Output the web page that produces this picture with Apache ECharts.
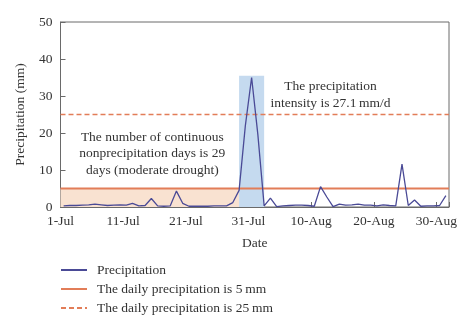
<!DOCTYPE html>
<html>
<head>
<meta charset="utf-8">
<script src="https://cdn.jsdelivr.net/npm/echarts@6/dist/echarts.min.js"></script>
<style>
  html, body { margin: 0; padding: 0; background: #fff; }
  #chart { width: 474px; height: 331px; }
</style>
</head>
<body>
<div id="chart"></div>
<script>
// Daily precipitation (mm), 1 July .. 31 August; each value is plotted at midday of its date
const precipitation = [
  0.3, 0.4, 0.4, 0.5, 0.6, 0.8, 0.6, 0.4, 0.5, 0.6,
  0.5, 1.0, 0.3, 0.4, 2.3, 0.3, 0.2, 0.3, 4.3, 1.0,
  0.2, 0.2, 0.2, 0.2, 0.3, 0.3, 0.3, 1.2, 4.5, 22.0,
  35.0, 19.5, 0.3, 2.4, 0.1, 0.3, 0.4, 0.5, 0.5, 0.4,
  0.2, 5.5, 2.7, 0.1, 0.8, 0.5, 0.6, 0.8, 0.5, 0.5,
  0.3, 0.6, 0.4, 0.3, 11.6, 0.4, 1.9, 0.2, 0.3, 0.3,
  0.4, 3.1
];
// Threshold lines (mm)
const dailyThresholds = [5, 25];
// Day span of the x axis (days after 1 July)
const dayRange = [0, 62];
const xTickLabels = ['1-Jul', '11-Jul', '21-Jul', '31-Jul', '10-Aug', '20-Aug', '30-Aug'];
const yTicks = [0, 10, 20, 30, 40, 50];
// Dry spell (no precipitation) and the rain event, in days after 1 July
const drySpell = [0, 28.5];
const rainEvent = [28.5, 32.5];
const rainEventTop = 35.5;

const seriesNames = [
  'Precipitation',
  'The daily precipitation is 5\u2009mm',
  'The daily precipitation is 25\u2009mm'
];

const FONT = 'Liberation Serif';
const TEXT = '#333333';
const BLUE = '#4a4a96';
const ORANGE = '#e27d58';
const FS = 13.5;

const chart = echarts.init(document.getElementById('chart'), null, { renderer: 'canvas' });

const lineData = precipitation.map((v, i) => [i + 0.5, v]);
const thresholdLine = (t) => [[dayRange[0], t], [dayRange[1], t]];

chart.setOption({
  animation: false,
  backgroundColor: '#ffffff',
  textStyle: { fontFamily: FONT, color: TEXT },
  grid: {
    left: 60.5, right: 25, top: 22, bottom: 124,
    show: true, borderColor: '#6a6a6a', borderWidth: 1, backgroundColor: 'transparent'
  },
  legend: {
    orient: 'vertical',
    left: 55, top: 258,
    itemWidth: 26, itemHeight: 10, itemGap: 5,
    itemStyle: { opacity: 0 },
    textStyle: { fontFamily: FONT, fontSize: FS, color: TEXT, padding: [0, 0, 0, 5] },
    data: seriesNames
  },
  xAxis: {
    type: 'value',
    min: dayRange[0], max: dayRange[1], interval: 10,
    name: 'Date', nameLocation: 'middle', nameGap: 29,
    nameTextStyle: { fontFamily: FONT, fontSize: FS, color: TEXT },
    axisLine: { lineStyle: { color: '#6a6a6a', width: 1 } },
    axisTick: { inside: true, length: 5, lineStyle: { color: '#6a6a6a' } },
    axisLabel: {
      fontFamily: FONT, fontSize: FS, color: TEXT, margin: 7,
      formatter: (v) => (v % 10 === 0 && xTickLabels[v / 10]) ? xTickLabels[v / 10] : ''
    },
    splitLine: { show: false }
  },
  yAxis: {
    type: 'value',
    min: yTicks[0], max: yTicks[yTicks.length - 1], interval: 10,
    name: 'Precipitation (mm)', nameLocation: 'middle', nameGap: 33, nameRotate: 90,
    nameTextStyle: { fontFamily: FONT, fontSize: FS, color: TEXT },
    axisLine: { show: true, lineStyle: { color: '#6a6a6a', width: 1 } },
    axisTick: { show: true, inside: true, length: 5, lineStyle: { color: '#6a6a6a' } },
    axisLabel: { fontFamily: FONT, fontSize: FS, color: TEXT, margin: 8 },
    splitLine: { show: false }
  },
  series: [
    {
      name: seriesNames[1],
      type: 'line',
      data: thresholdLine(dailyThresholds[0]),
      symbol: 'none',
      lineStyle: { color: ORANGE, width: 2 },
      itemStyle: { color: ORANGE },
      z: 3,
      markArea: {
        silent: true,
        itemStyle: { color: '#f9e2d1' },
        data: [[{ coord: [drySpell[0], 0] }, { coord: [drySpell[1], dailyThresholds[0]] }]]
      }
    },
    {
      name: seriesNames[2],
      type: 'line',
      data: thresholdLine(dailyThresholds[1]),
      symbol: 'none',
      lineStyle: { color: ORANGE, width: 1.6, type: [5, 3] },
      itemStyle: { color: ORANGE },
      z: 3
    },
    {
      name: seriesNames[0],
      type: 'line',
      data: lineData,
      symbol: 'none',
      lineStyle: { color: BLUE, width: 1.3 },
      itemStyle: { color: BLUE },
      z: 4,
      markArea: {
        silent: true,
        itemStyle: { color: '#c5daef' },
        data: [[{ coord: [rainEvent[0], 0] }, { coord: [rainEvent[1], rainEventTop] }]]
      },
      markPoint: {
        silent: true,
        symbol: 'circle',
        symbolSize: 0,
        label: {
          show: true, position: 'inside',
          fontFamily: FONT, fontSize: FS, color: TEXT,
          lineHeight: 16.5, align: 'center', verticalAlign: 'middle'
        },
        data: [
          { coord: [43.1, 30.3], value: 0,
            label: { formatter: 'The precipitation\nintensity is 27.1\u2009mm/d' } },
          { coord: [14.65, 14.4], value: 0,
            label: { formatter: 'The number of continuous\nnonprecipitation days is 29\ndays (moderate drought)' } }
        ]
      }
    }
  ]
});
</script>
</body>
</html>
